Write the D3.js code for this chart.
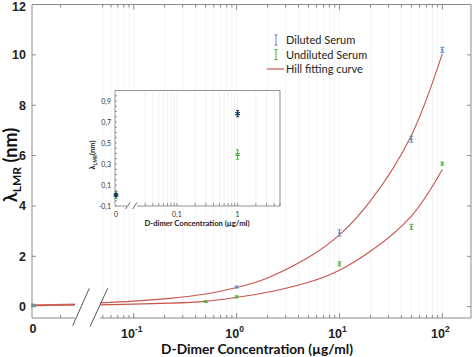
<!DOCTYPE html>
<html><head><meta charset="utf-8">
<script src="https://cdn.jsdelivr.net/npm/d3@7"></script>
<style>body{margin:0;background:#fff}svg{display:block}</style>
</head><body><script>
// ---------- data ----------
const dilutedX = [0, 1, 10, 50, 100];
const dilutedY = [0.06, 0.78, 2.93, 6.65, 10.2];
const dilutedErr = [0.04, 0.04, 0.12, 0.12, 0.1];
const undilutedX = [0, 0.5, 1, 10, 50, 100];
const undilutedY = [0.03, 0.2, 0.39, 1.70, 3.17, 5.68];
const undilutedErr = [0.03, 0.03, 0.04, 0.08, 0.1, 0.06];
const fitLeftX = [0, 0.045];
const fitUpperLeftY = [0.05, 0.09];
const fitLowerLeftY = [0.05, 0.07];
const fitUpperX = [0.047, 0.1, 0.224, 0.5, 1, 2, 5, 10, 20, 50, 100];
const fitUpperY = [0.15, 0.22, 0.33, 0.5, 0.76, 1.14, 1.96, 2.85, 4.2, 6.8, 10.05];
const fitLowerX = [0.047, 0.1, 0.224, 0.5, 1, 2, 5, 10, 20, 50, 100];
const fitLowerY = [0.07, 0.1, 0.14, 0.21, 0.37, 0.57, 0.97, 1.45, 2.2, 3.6, 5.45];
const yTicks = [0, 2, 4, 6, 8, 10, 12];
const xMajorTicks = [0.1, 1, 10, 100];
const xTickExp = ["-1", "0", "1", "2"];
const legendLabels = ["Diluted Serum", "Undiluted Serum", "Hill fitting curve"];
// inset
const insetX = [0, 1];
const insetDilutedY = [0.005, 0.78];
const insetDilutedErr = [0.015, 0.03];
const insetUndilutedY = [0.005, 0.39];
const insetUndilutedErr = [0.033, 0.045];
const insetYTicks = [-0.1, 0.1, 0.3, 0.5, 0.7, 0.9];
const insetYLabels = ["-0,1", "0,1", "0,3", "0,5", "0,7", "0,9"];
const insetXTicks = [0.1, 1];
const insetXLabels = ["0,1", "1"];

// ---------- setup ----------
const W = 474, H = 357;
const svg = d3.select("body").append("svg").attr("width", W).attr("height", H)
  .style("font-family", "Lato, 'Open Sans', sans-serif");
const RED = "#c9544c", BLUE = "#5b8fd3", GREEN = "#4fb23e", NAVY = "#1d3563", AX = "#8a8a8a";

const xZero = d3.scaleLinear().domain([0, 0.045]).range([32, 75]);
const xLog = d3.scaleLog().domain([0.047, 190]).range([100, 471]);
const y = d3.scaleLinear().domain([-0.45, 12]).range([318, 4.5]);
const xOf = v => v === 0 ? xZero(0) + 1 : xLog(v);

// grid lines
const minorTicks = xLog.ticks().filter(t => t >= 0.047 && t <= 190);
svg.append("g").selectAll("line").data(minorTicks).join("line")
  .attr("x1", d => xLog(d)).attr("x2", d => xLog(d))
  .attr("y1", y(12)).attr("y2", y(-0.45))
  .attr("stroke", "#f1f1f1").attr("stroke-width", 0.8);

// fit curves
const line = d3.line().curve(d3.curveNatural);
function drawFit(xs, ys, xs2, ys2) {
  svg.append("path").attr("d", d3.line()(xs.map((v, i) => [xZero(v), y(ys[i])])))
    .attr("fill", "none").attr("stroke", RED).attr("stroke-width", 1.6).attr("opacity", 0.8);
  svg.append("path").attr("d", line(xs2.map((v, i) => [xLog(v), y(ys2[i])])))
    .attr("fill", "none").attr("stroke", RED).attr("stroke-width", 1.1);
}
drawFit(fitLeftX, fitUpperLeftY, fitUpperX, fitUpperY);
drawFit(fitLeftX, fitLowerLeftY, fitLowerX, fitLowerY);

// error bars
function errBars(g, xs, ys, es, color, xf, yf, cap, marker) {
  xs.forEach((v, i) => {
    const cx = xf(v), y0 = yf(ys[i] - es[i]), y1 = yf(ys[i] + es[i]);
    g.append("line").attr("x1", cx).attr("x2", cx).attr("y1", y0).attr("y2", y1).attr("stroke", color).attr("stroke-width", 1);
    [y0, y1].forEach(yy => g.append("line").attr("x1", cx - cap).attr("x2", cx + cap).attr("y1", yy).attr("y2", yy).attr("stroke", color).attr("stroke-width", 1));
    if (marker === "dot") g.append("circle").attr("cx", cx).attr("cy", yf(ys[i])).attr("r", 1.2).attr("fill", color);
    else g.append("path").attr("d", d3.symbol(d3.symbolAsterisk, 18)()).attr("transform", `translate(${cx},${yf(ys[i])})`).attr("stroke", color).attr("stroke-width", 1.2).attr("fill", "none");
  });
}
const gPts = svg.append("g");
errBars(gPts, undilutedX, undilutedY, undilutedErr, GREEN, xOf, y, 2, "dot");
errBars(gPts, dilutedX, dilutedY, dilutedErr, BLUE, xOf, y, 2, "dot");

// ---------- axes ----------
const gAx = svg.append("g").attr("stroke", AX).attr("stroke-width", 1).attr("fill", "none");
gAx.append("line").attr("x1", 32).attr("x2", 32).attr("y1", 4.5).attr("y2", 318);
gAx.append("line").attr("x1", 471).attr("x2", 471).attr("y1", 4.5).attr("y2", 318);
gAx.append("line").attr("x1", 32).attr("x2", 471).attr("y1", 4.5).attr("y2", 4.5);
gAx.append("line").attr("x1", 32).attr("x2", 75).attr("y1", 318).attr("y2", 318);
gAx.append("line").attr("x1", 100).attr("x2", 471).attr("y1", 318).attr("y2", 318);
// break slashes
svg.append("line").attr("x1", 72.7).attr("y1", 325.7).attr("x2", 89.3).attr("y2", 288.3).attr("stroke", "#555").attr("stroke-width", 1);
svg.append("line").attr("x1", 90).attr("y1", 326.7).attr("x2", 107.7).attr("y2", 288.3).attr("stroke", "#555").attr("stroke-width", 1);
const tickFont = "'Liberation Sans', Arial, sans-serif";
// y ticks
yTicks.forEach(t => {
  gAx.append("line").attr("x1", 32).attr("x2", 36).attr("y1", y(t)).attr("y2", y(t));
  gAx.append("line").attr("x1", 467).attr("x2", 471).attr("y1", y(t)).attr("y2", y(t));
  svg.append("text").attr("x", 26).attr("y", Math.max(y(t) + 4.5, 10.5)).attr("text-anchor", "end")
    .attr("font-family", tickFont).attr("font-weight", "bold").attr("font-size", 12.5).attr("fill", "#222").text(t);
});
// x ticks
const zeroTicks = [0.03];
minorTicks.forEach(t => {
  const len = xMajorTicks.includes(t) ? 5 : 3;
  gAx.append("line").attr("x1", xLog(t)).attr("x2", xLog(t)).attr("y1", 318).attr("y2", 318 - len);
  gAx.append("line").attr("x1", xLog(t)).attr("x2", xLog(t)).attr("y1", 4.5).attr("y2", 4.5 + len);
});
zeroTicks.forEach(t => {
  gAx.append("line").attr("x1", xZero(t)).attr("x2", xZero(t)).attr("y1", 318).attr("y2", 315);
  gAx.append("line").attr("x1", xZero(t)).attr("x2", xZero(t)).attr("y1", 4.5).attr("y2", 7.5);
});
svg.append("text").attr("x", xZero(0) + 1).attr("y", 333).attr("text-anchor", "middle")
  .attr("font-family", tickFont).attr("font-weight", "bold").attr("font-size", 12.5).attr("fill", "#222").text("0");
xMajorTicks.forEach((t, i) => {
  const tx = svg.append("text").attr("x", xLog(t) - 2).attr("y", 337.5).attr("text-anchor", "middle")
    .attr("font-family", tickFont).attr("font-weight", "bold").attr("font-size", 12.5).attr("fill", "#222");
  tx.append("tspan").text("10");
  tx.append("tspan").attr("dy", -6).attr("font-size", 8.5).text(xTickExp[i]);
});

// titles
function fitWidth(sel, target) {
  const w = sel.node().getComputedTextLength();
  const fs = parseFloat(sel.attr("font-size"));
  sel.attr("font-size", (fs * target / w).toFixed(2));
}
const xt = svg.append("text").attr("x", 257).attr("y", 354).attr("text-anchor", "middle")
  .attr("font-weight", "bold").attr("font-size", 14).attr("fill", "#111").text("D-Dimer Concentration (µg/ml)");
fitWidth(xt, 192);
const yt = svg.append("text").attr("transform", "translate(17,165) rotate(-90)").attr("text-anchor", "middle")
  .attr("font-weight", "bold").attr("font-size", 18).attr("fill", "#111");
yt.append("tspan").text("λ");
yt.append("tspan").attr("font-size", 12).attr("dy", 3.5).text("LMR");
yt.append("tspan").attr("dy", -3.5).text(" (nm)");

// ---------- legend ----------
const lg = svg.append("g");
[[BLUE, 40], [GREEN, 54.5]].forEach(([c, ly]) => {
  lg.append("line").attr("x1", 276).attr("x2", 276).attr("y1", ly - 5).attr("y2", ly + 5).attr("stroke", c);
  lg.append("line").attr("x1", 274.5).attr("x2", 277.5).attr("y1", ly - 5).attr("y2", ly - 5).attr("stroke", c);
  lg.append("line").attr("x1", 274.5).attr("x2", 277.5).attr("y1", ly + 5).attr("y2", ly + 5).attr("stroke", c);
});
lg.append("line").attr("x1", 267).attr("x2", 284).attr("y1", 69).attr("y2", 69).attr("stroke", RED).attr("stroke-width", 1.2);
legendLabels.forEach((t, i) => {
  lg.append("text").attr("x", 286).attr("y", [44, 58.5, 73][i]).attr("font-size", 11).attr("fill", "#222").text(t);
});

// ---------- inset ----------
const ix0 = d3.scaleLinear().domain([0, 1]).range([116, 127]);
const ixL = d3.scaleLog().domain([0.022, 5]).range([137, 280]);
const iy = d3.scaleLinear().domain([-0.1, 1.0]).range([206, 90.5]);
const ixOf = v => v === 0 ? 116 : ixL(v);
const ig = svg.append("g");
ig.append("rect").attr("x", 115).attr("y", 90.5).attr("width", 165).attr("height", 115.5).attr("fill", "#fff");
const iMinor = ixL.ticks().filter(t => t >= 0.022 && t <= 5);
ig.selectAll("line.g").data(iMinor).join("line").attr("class", "g")
  .attr("x1", d => ixL(d)).attr("x2", d => ixL(d)).attr("y1", 90.5).attr("y2", 206)
  .attr("stroke", "#ececec").attr("stroke-width", 0.7);
const iax = ig.append("g").attr("stroke", "#8a8a8a").attr("stroke-width", 0.9);
iax.append("line").attr("x1", 115).attr("x2", 115).attr("y1", 90.5).attr("y2", 206);
iax.append("line").attr("x1", 115).attr("x2", 280).attr("y1", 90.5).attr("y2", 90.5);
iax.append("line").attr("x1", 280).attr("x2", 280).attr("y1", 90.5).attr("y2", 206);
iax.append("line").attr("x1", 115).attr("x2", 127).attr("y1", 206).attr("y2", 206);
iax.append("line").attr("x1", 137).attr("x2", 280).attr("y1", 206).attr("y2", 206);
ig.append("line").attr("x1", 125.5).attr("y1", 209).attr("x2", 130).attr("y2", 202.5).attr("stroke", "#444").attr("stroke-width", 0.8);
ig.append("line").attr("x1", 132.5).attr("y1", 209).attr("x2", 137).attr("y2", 202.5).attr("stroke", "#444").attr("stroke-width", 0.8);
d3.range(-0.1, 1.0, 0.05).forEach(t => {
  iax.append("line").attr("x1", 115).attr("x2", 117).attr("y1", iy(t)).attr("y2", iy(t));
});
iMinor.forEach(t => {
  iax.append("line").attr("x1", ixL(t)).attr("x2", ixL(t)).attr("y1", 206).attr("y2", 203);
});
insetYTicks.forEach((t, i) => {
  ig.append("text").attr("x", 111).attr("y", iy(t) + 2.5).attr("text-anchor", "end")
    .attr("font-size", 7).attr("fill", "#333").text(insetYLabels[i]);
});
ig.append("text").attr("x", 116).attr("y", 217).attr("text-anchor", "middle").attr("font-size", 7).attr("fill", "#333").text("0");
insetXTicks.forEach((t, i) => {
  ig.append("text").attr("x", ixL(t)).attr("y", 217).attr("text-anchor", "middle").attr("font-size", 7).attr("fill", "#333").text(insetXLabels[i]);
});
const ixt = ig.append("text").attr("x", 197).attr("y", 226).attr("text-anchor", "middle")
  .attr("font-weight", "bold").attr("font-size", 8).attr("fill", "#222").text("D-dimer Concentration (µg/ml)");
fitWidth(ixt, 105);
const iyt = ig.append("text").attr("transform", "translate(95,155) rotate(-90)").attr("text-anchor", "middle")
  .attr("font-weight", "bold").attr("font-size", 7.5).attr("fill", "#222");
iyt.append("tspan").text("λ");
iyt.append("tspan").attr("font-size", 5).attr("dy", 1.5).text("LMR");
iyt.append("tspan").attr("dy", -1.5).text("(nm)");
errBars(ig, insetX, insetUndilutedY, insetUndilutedErr, GREEN, ixOf, iy, 1.5, "star");
errBars(ig, insetX, insetDilutedY, insetDilutedErr, NAVY, ixOf, iy, 1.5, "star");
</script></body></html>
